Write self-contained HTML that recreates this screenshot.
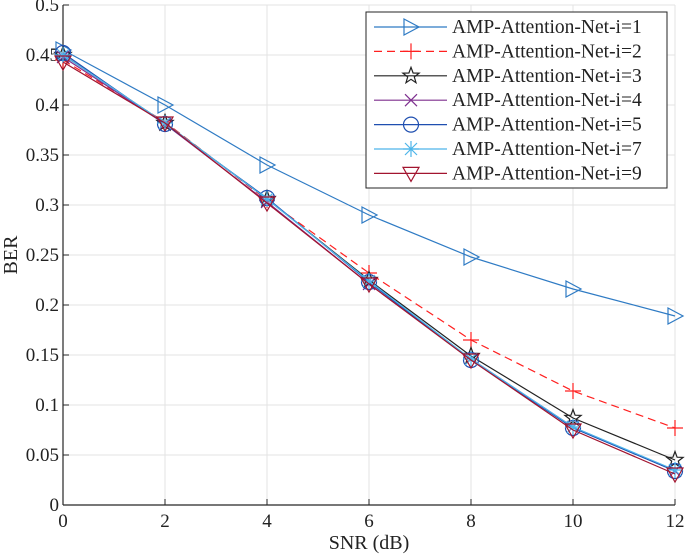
<!DOCTYPE html>
<html><head><meta charset="utf-8"><style>
html,body{margin:0;padding:0;background:#fff;}
svg{display:block;font-family:"Liberation Serif",serif;}
</style></head><body>
<svg id="chart" width="685" height="555" xmlns="http://www.w3.org/2000/svg">
<g id="grid"></g>
<g id="axes"></g>
<g id="series"></g>
<g id="legend"></g>
</svg>
<script>
const snr = [0, 2, 4, 6, 8, 10, 12];
const ber1 = [0.455, 0.400, 0.340, 0.290, 0.248, 0.216, 0.189];
const ber2 = [0.445, 0.383, 0.305, 0.232, 0.165, 0.114, 0.077];
const ber3 = [0.450, 0.382, 0.306, 0.225, 0.149, 0.087, 0.045];
const ber4 = [0.448, 0.381, 0.303, 0.221, 0.146, 0.078, 0.034];
const ber5 = [0.452, 0.381, 0.307, 0.223, 0.145, 0.077, 0.034];
const ber7 = [0.450, 0.382, 0.306, 0.224, 0.146, 0.078, 0.035];
const ber9 = [0.443, 0.382, 0.302, 0.221, 0.145, 0.075, 0.031];
const seriesNames = ["AMP-Attention-Net-i=1","AMP-Attention-Net-i=2","AMP-Attention-Net-i=3","AMP-Attention-Net-i=4","AMP-Attention-Net-i=5","AMP-Attention-Net-i=7","AMP-Attention-Net-i=9"];
const xTicks = [0, 2, 4, 6, 8, 10, 12];
const yTicks = [0, 0.05, 0.1, 0.15, 0.2, 0.25, 0.3, 0.35, 0.4, 0.45, 0.5];
const yTickLabels = ["0","0.05","0.1","0.15","0.2","0.25","0.3","0.35","0.4","0.45","0.5"];

const NS = "http://www.w3.org/2000/svg";
const L = 63, R = 675, T = 5, B = 505;
const xS = v => L + (v - 0) / 12 * (R - L);
const yS = v => B - v / 0.5 * (B - T);
function mk(tag, attrs, parent) {
  const e = document.createElementNS(NS, tag);
  for (const k in attrs) e.setAttribute(k, attrs[k]);
  parent.appendChild(e);
  return e;
}
const grid = document.getElementById('grid'), axes = document.getElementById('axes');
const ser = document.getElementById('series'), leg = document.getElementById('legend');

xTicks.forEach(t => {
  const g = mk('line', {x1: xS(t), x2: xS(t), y1: T, y2: B, stroke: '#e3e3e3', 'stroke-width': 1}, grid);
  
  
  const tk = mk('line', {x1: xS(t), x2: xS(t), y1: B, y2: B - 6, stroke: '#262626', 'stroke-width': 1}, axes);
  
  
  const tx = mk('text', {x: xS(t), y: B + 22, 'font-size': 19, 'text-anchor': 'middle', fill: '#222'}, axes);
  tx.textContent = t;
  
  
});
yTicks.forEach((t, i) => {
  const g = mk('line', {x1: L, x2: R, y1: yS(t), y2: yS(t), stroke: '#e3e3e3', 'stroke-width': 1}, grid);
  
  
  const tk = mk('line', {x1: L, x2: L + 6, y1: yS(t), y2: yS(t), stroke: '#262626', 'stroke-width': 1}, axes);
  
  
  const tx = mk('text', {x: L - 4, y: yS(t) + 6, 'font-size': 19, 'text-anchor': 'end', fill: '#222'}, axes);
  tx.textContent = yTickLabels[i];
  
  
});
const xa = mk('line', {x1: L, x2: R, y1: B, y2: B, stroke: '#262626', 'stroke-width': 1.2}, axes);


const ya = mk('line', {x1: L, x2: L, y1: T, y2: B, stroke: '#262626', 'stroke-width': 1.2}, axes);


const xt = mk('text', {x: (L + R) / 2, y: 549, 'font-size': 20, 'text-anchor': 'middle', fill: '#222'}, axes);
xt.textContent = 'SNR (dB)';


const yt = mk('text', {x: 0, y: 0, 'font-size': 20, 'text-anchor': 'middle', fill: '#222', transform: 'translate(17,' + ((T + B) / 2) + ') rotate(-90)'}, axes);
yt.textContent = 'BER';



const data = [ber1, ber2, ber3, ber4, ber5, ber7, ber9];
const colors = ['#2f7bc4', '#ff2020', '#222222', '#7e2f8e', '#1f4fb0', '#4db5ea', '#a2142f'];
const markers = ['tri-right', 'plus', 'star', 'x', 'circle', 'asterisk', 'tri-down'];
const dashes = [null, '8,5', null, null, null, null, null];

function marker(type, x, y, c, parent) {
  const s = 8, a = {fill: 'none', stroke: c, 'stroke-width': 1.2};
  let e;
  if (type === 'tri-right') e = mk('polygon', Object.assign({points: `${x-s+1},${y-s} ${x+s},${y} ${x-s+1},${y+s}`}, a), parent);
  else if (type === 'tri-down') e = mk('polygon', Object.assign({points: `${x-s},${y-s+2} ${x+s},${y-s+2} ${x},${y+s}`}, a), parent);
  else if (type === 'circle') e = mk('circle', Object.assign({cx: x, cy: y, r: 7.5}, a), parent);
  else if (type === 'plus') e = mk('path', Object.assign({d: `M${x-s},${y}H${x+s}M${x},${y-s}V${y+s}`}, a), parent);
  else if (type === 'x') e = mk('path', Object.assign({d: `M${x-6},${y-6}L${x+6},${y+6}M${x-6},${y+6}L${x+6},${y-6}`}, a), parent);
  else if (type === 'asterisk') e = mk('path', Object.assign({d: `M${x-s},${y}H${x+s}M${x},${y-s}V${y+s}M${x-6},${y-6}L${x+6},${y+6}M${x-6},${y+6}L${x+6},${y-6}`}, a), parent);
  else {
    let p = '';
    for (let i = 0; i < 10; i++) {
      const r = i % 2 ? 3.5 : 8.5, an = -Math.PI / 2 + i * Math.PI / 5;
      p += (i ? 'L' : 'M') + (x + r * Math.cos(an)).toFixed(1) + ',' + (y + r * Math.sin(an)).toFixed(1);
    }
    e = mk('path', Object.assign({d: p + 'Z'}, a), parent);
  }
  
  
}

data.forEach((vals, si) => {
  const g = mk('g', {}, ser);
  
  
  const pts = vals.map((v, i) => xS(snr[i]) + ',' + yS(v)).join(' ');
  const attrs = {points: pts, fill: 'none', stroke: colors[si], 'stroke-width': 1.2};
  if (dashes[si]) attrs['stroke-dasharray'] = dashes[si];
  const pl = mk('polyline', attrs, g);
  
  
  vals.forEach((v, i) => marker(markers[si], xS(snr[i]), yS(v), colors[si], g));
});

const box = mk('rect', {x: 366, y: 12, width: 301, height: 176, fill: '#fff', stroke: '#262626', 'stroke-width': 1}, leg);


seriesNames.forEach((n, i) => {
  const y = 27 + i * 24.4;
  const g = mk('g', {}, leg);
  
  
  const la = {x1: 374, x2: 447, y1: y, y2: y, stroke: colors[i], 'stroke-width': 1.2};
  if (dashes[i]) la['stroke-dasharray'] = dashes[i];
  const ln = mk('line', la, g);
  
  
  marker(markers[i], 411, y, colors[i], g);
  const t = mk('text', {x: 452, y: y + 6, 'font-size': 19.5, fill: '#222'}, g);
  t.textContent = n;
  
  
});
</script>
</body></html>
